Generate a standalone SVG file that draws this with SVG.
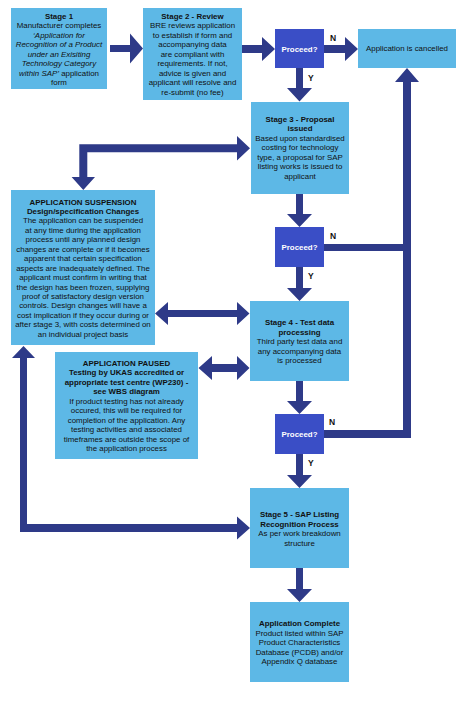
<svg xmlns="http://www.w3.org/2000/svg" width="474" height="711" viewBox="0 0 474 711">
<style>
.box{fill:#5db8e6}
.dec{fill:#3a4ec6}
.arr{fill:#2e3a88}
text{font-family:"Liberation Sans",Arial,sans-serif;font-size:7.9px;fill:#111;text-anchor:middle}
.b{font-weight:bold}
.i{font-style:italic}
.w{fill:#fff;font-weight:bold}
.lab{font-weight:bold;font-size:8.5px;text-anchor:start}
</style>
<rect width="474" height="711" fill="#fff"/>
<g id="connectors">
<path class="arr" d="M110,45 H130 V33.5 L143,48.5 L130,63.5 V52 H110 Z"/>
<path class="arr" d="M242,45 H262 V37 L275,49 L262,61 V53 H242 Z"/>
<path class="arr" d="M324,45 H345 V37 L358,49 L345,61 V53 H324 Z"/>
<path class="arr" d="M296,68 H303 V88 H312 L299.5,101.5 L287,88 H296 Z"/>
<path class="arr" d="M296,194 H303 V214 H312 L299.5,227 L287,214 H296 Z"/>
<path class="arr" d="M296,267 H303 V288 H312 L299.5,301 L287,288 H296 Z"/>
<path class="arr" d="M296,381 H303 V401 H312 L299.5,414 L287,401 H296 Z"/>
<path class="arr" d="M296,454 H303 V475 H312 L299.5,488 L287,475 H296 Z"/>
<path class="arr" d="M296,568 H303 V589 H312 L299.5,602 L287,589 H296 Z"/>
<path class="arr" d="M407,68 L419,82 H411 V438 H324 V430 H403 V251 H324 V244 H403 V82 H395 Z"/>
<path class="arr" d="M79.3,144.3 H237 V136 L250,148.3 L237,160.6 V152.3 H87.3 V177 H95 L83.3,190 L71.6,177 H79.3 Z"/>
<path class="arr" d="M155,313.5 L168,302 V310 H237 V302 L249.5,313.5 L237,325 V317 H168 V325 Z"/>
<path class="arr" d="M198.5,368 L212,356 V364 H237 V356 L249.5,368 L237,380 V372 H212 V380 Z"/>
<path class="arr" d="M23.5,346 L35,358 H27 V524 H237 V516.5 L250,528 L237,539.5 V532 H20 V358 H12 Z"/>
<text class="lab" x="330" y="40.5">N</text>
<text class="lab" x="308" y="81">Y</text>
<text class="lab" x="330" y="238.5">N</text>
<text class="lab" x="308" y="279">Y</text>
<text class="lab" x="329" y="424.5">N</text>
<text class="lab" x="308" y="466">Y</text>
</g>
<g id="stage1">
<rect class="box" x="11" y="8" width="96" height="81"/>
<text class="b" x="59" y="18.5">Stage 1</text>
<text x="59" y="28">Manufacturer completes</text>
<text class="i" x="59" y="37.5">‘Application for</text>
<text class="i" x="59" y="47">Recognition of a Product</text>
<text class="i" x="59" y="56.5">under an Exisiting</text>
<text class="i" x="59" y="66">Technology Category</text>
<text x="59" y="75.5"><tspan class="i">within SAP’</tspan> application</text>
<text x="59" y="85">form</text>
</g>
<g id="stage2">
<rect class="box" x="143" y="8" width="99" height="92"/>
<text class="b" x="192.5" y="18.5">Stage 2 - Review</text>
<text x="192.5" y="28">BRE reviews application</text>
<text x="192.5" y="37.5">to establish if form and</text>
<text x="192.5" y="47">accompanying data</text>
<text x="192.5" y="56.5">are compliant with</text>
<text x="192.5" y="66">requirements. If not,</text>
<text x="192.5" y="75.5">advice is given and</text>
<text x="192.5" y="85">applicant will resolve and</text>
<text x="192.5" y="94.5">re-submit (no fee)</text>
</g>
<g id="proceed1">
<rect class="dec" x="275" y="29" width="49" height="39"/>
<text class="w" x="299.5" y="51.5">Proceed?</text>
</g>
<g id="cancelled">
<rect class="box" x="358" y="29" width="98" height="39"/>
<text x="407" y="51.3">Application is cancelled</text>
</g>
<g id="stage3">
<rect class="box" x="251" y="102" width="98" height="92"/>
<text class="b" x="300" y="121.7">Stage 3 - Proposal</text>
<text class="b" x="300" y="131.2">issued</text>
<text x="300" y="140.8">Based upon standardised</text>
<text x="300" y="150.3">costing for technology</text>
<text x="300" y="159.9">type, a proposal for SAP</text>
<text x="300" y="169.4">listing works is issued to</text>
<text x="300" y="179">applicant</text>
</g>
<g id="proceed2">
<rect class="dec" x="275" y="227" width="49" height="40"/>
<text class="w" x="299.5" y="250">Proceed?</text>
</g>
<g id="suspension">
<rect class="box" x="11" y="190" width="144" height="155"/>
<text class="b" x="83" y="204.5">APPLICATION SUSPENSION</text>
<text class="b" x="83" y="213.9">Design/specification Changes</text>
<text x="83" y="223.4">The application can be suspended</text>
<text x="83" y="232.8">at any time during the application</text>
<text x="83" y="242.3">process until any planned design</text>
<text x="83" y="251.7">changes are complete or if it becomes</text>
<text x="83" y="261.2">apparent that certain specification</text>
<text x="83" y="270.6">aspects are inadequately defined. The</text>
<text x="83" y="280.1">applicant must confirm in writing that</text>
<text x="83" y="289.5">the design has been frozen, supplying</text>
<text x="83" y="299">proof of satisfactory design version</text>
<text x="83" y="308.4">controls. Design changes will have a</text>
<text x="83" y="317.9">cost implication if they occur during or</text>
<text x="83" y="327.3">after stage 3, with costs determined on</text>
<text x="83" y="336.8">an individual project basis</text>
</g>
<g id="stage4">
<rect class="box" x="250" y="301" width="99" height="80"/>
<text class="b" x="299.5" y="325.1">Stage 4 - Test data</text>
<text class="b" x="299.5" y="334.6">processing</text>
<text x="299.5" y="344.1">Third party test data and</text>
<text x="299.5" y="353.6">any accompanying data</text>
<text x="299.5" y="363.1">is processed</text>
</g>
<g id="paused">
<rect class="box" x="55" y="352" width="143" height="107"/>
<text class="b" x="126.5" y="365.5">APPLICATION PAUSED</text>
<text class="b" x="126.5" y="375">Testing by UKAS accredited or</text>
<text class="b" x="126.5" y="384.5">appropriate test centre (WP230) -</text>
<text class="b" x="126.5" y="394">see WBS diagram</text>
<text x="126.5" y="403.5">If product testing has not already</text>
<text x="126.5" y="413">occured, this will be required for</text>
<text x="126.5" y="422.6">completion of the application. Any</text>
<text x="126.5" y="432.1">testing activities and associated</text>
<text x="126.5" y="441.6">timeframes are outside the scope of</text>
<text x="126.5" y="451.1">the application process</text>
</g>
<g id="proceed3">
<rect class="dec" x="275" y="414" width="49" height="40"/>
<text class="w" x="299.5" y="437">Proceed?</text>
</g>
<g id="stage5">
<rect class="box" x="250" y="488" width="99" height="80"/>
<text class="b" x="299.5" y="517.1">Stage 5 - SAP Listing</text>
<text class="b" x="299.5" y="526.6">Recognition Process</text>
<text x="299.5" y="536.1">As per work breakdown</text>
<text x="299.5" y="545.6">structure</text>
</g>
<g id="complete">
<rect class="box" x="250" y="602" width="99" height="80"/>
<text class="b" x="299.5" y="626.1">Application Complete</text>
<text x="299.5" y="635.6">Product listed within SAP</text>
<text x="299.5" y="645.1">Product Characteristics</text>
<text x="299.5" y="654.6">Database (PCDB) and/or</text>
<text x="299.5" y="664.1">Appendix Q database</text>
</g>
</svg>
